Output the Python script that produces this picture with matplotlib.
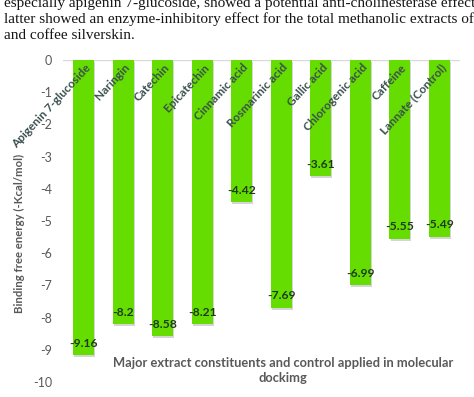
import numpy as np
import matplotlib
matplotlib.use("Agg")
import matplotlib.pyplot as plt
import matplotlib.patheffects as pe

# compounds docked and their binding free energies (kcal/mol)
compounds = ['Apigenin 7-glucoside', 'Naringin', 'Catechin', 'Epicatechin',
             'Cinnamic acid', 'Rosmarinic acid', 'Gallic acid', 'Chlorogenic acid',
             'Caffeine', 'Lannate (Control)']
energies = [-9.16, -8.2, -8.58, -8.21, -4.42, -7.69, -3.61, -6.99, -5.55, -5.49]
value_labels = ['-9.16', '-8.2', '-8.58', '-8.21', '-4.42', '-7.69', '-3.61', '-6.99', '-5.55', '-5.49']
yticks = [0, -1, -2, -3, -4, -5, -6, -7, -8, -9, -10]

# paper text above the figure (as much as the crop shows)
paper_lines = [
    'especially apigenin 7-glucoside, showed a potential anti-cholinesterase effect, W',
    'latter showed an enzyme-inhibitory effect for the total methanolic extracts of bo',
    'and coffee silverskin.',
]

W, H = 474, 397
fig = plt.figure(figsize=(W / 100, H / 100), dpi=100)
fig.patch.set_facecolor('white')

# paragraph text, first line is cut by the image edge
for k, line in enumerate(paper_lines):
    fig.text(4 / W, 1 - (7 + 16 * k) / H, line, family='Liberation Serif',
             fontsize=11, color='#151515', va='baseline', ha='left')

ax = fig.add_axes([63 / W, 1 - 382 / H, (460 - 63) / W, (382 - 60) / H])
x = np.arange(len(compounds))
bars = ax.bar(x, energies, width=0.53, color='#66DD00', zorder=2)
for b in bars:
    b.set_path_effects([pe.SimplePatchShadow(offset=(0.8, -1.5), shadow_rgbFace='#888888', alpha=0.35),
                        pe.Normal()])
ax.axhline(0, color='#D9D9D9', lw=1, zorder=1)

ax.set_xlim(-0.52, 9.52)
ax.set_ylim(-10, 0)
ax.set_yticks(yticks)
ax.set_yticklabels([str(t) for t in yticks], family='Lato', fontsize=9, color='#595959')
ax.tick_params(axis='y', length=0, pad=8)
ax.set_xticks([])
for s in ax.spines.values():
    s.set_visible(False)

# category names written diagonally at top of each bar
for i, name in enumerate(compounds):
    ax.text(i + 0.02, -0.06, name, rotation=47, rotation_mode='anchor',
            ha='right', va='top', family='Lato', fontweight='bold',
            fontsize=8.5, color='#3A4F4F', zorder=3)

# value labels inside bar ends
for i, (v, lab) in enumerate(zip(energies, value_labels)):
    ax.text(i, v + 0.37, lab, ha='center', va='center', family='Lato',
            fontweight='bold', fontsize=8.7, color='#1F3A1A', zorder=3)

ax.set_ylabel('Binding free energy (-Kcal/mol)', family='Lato', fontweight='bold',
              fontsize=8.2, color='#595959')
ax.yaxis.set_label_coords(-0.095, 0.46)
ax.text(5.04, -9.63, 'Major extract constituents and control applied in molecular\ndockimg',
        ha='center', va='center', family='Lato', fontweight='bold', fontsize=9.3,
        color='#595959', linespacing=1.3)

fig.savefig('out.png', dpi=100)
